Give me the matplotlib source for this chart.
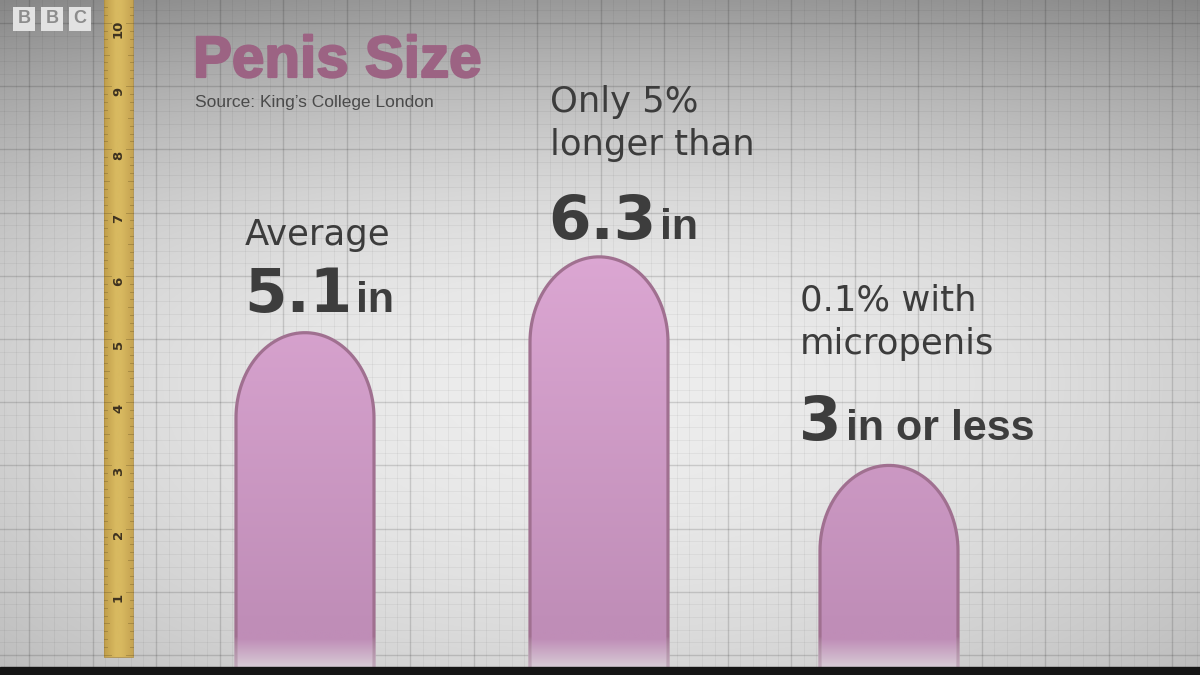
import numpy as np
import matplotlib
matplotlib.use('Agg')
import matplotlib.pyplot as plt
import matplotlib.patheffects as pe
from matplotlib.path import Path
from matplotlib.patches import PathPatch, Rectangle
from matplotlib.ticker import MultipleLocator
from matplotlib.colors import to_rgb

# Data (inches)
labels_top = ['Average', 'Only 5%\nlonger than', '0.1% with\nmicropenis']
values = [5.1, 6.3, 3.0]
value_text = ['5.1', '6.3', '3']
unit_text = ['in', 'in', 'in or less']
ruler_numbers = list(range(1, 11))

title = 'Penis Size'
source = "Source: King\u2019s College London"

# pixel -> data helpers (0 in = grid line near the bottom)
PX_X, PX_Y = 63.5, 63.2
def px2x(p):
    return (p - 29) / PX_X
def px2y(p):
    return (655 - p) / PX_Y

fig = plt.figure(figsize=(12, 6.75), dpi=100)
ax = fig.add_axes([0, 0, 1, 1])
x0, x1 = px2x(0), px2x(1200)
y0, y1 = px2y(675), px2y(0)
ax.set_xlim(x0, x1)
ax.set_ylim(y0, y1)
for s in ax.spines.values():
    s.set_visible(False)

# Background vignette
H, W = 270, 480
yy, xx = np.mgrid[0:H, 0:W]
px_x = xx / (W - 1) * 1200
px_y = yy / (H - 1) * 675
dx = (px_x - 600) / 600
dy = np.where(px_y < 380, (px_y - 380) / 300, (px_y - 380) / 295)
by = np.where(px_y < 380, 0.22, 0.10)
g = 0.93 * (1 - 0.12 * dx ** 2) * (1 - by * dy ** 2)
bg = np.dstack([g, g, g])
ax.imshow(bg, extent=[x0, x1, y0, y1], origin='upper', aspect='auto',
          zorder=0, interpolation='bilinear')

# Grid paper
ax.xaxis.set_major_locator(MultipleLocator(1))
ax.yaxis.set_major_locator(MultipleLocator(1))
ax.xaxis.set_minor_locator(MultipleLocator(0.2))
ax.yaxis.set_minor_locator(MultipleLocator(0.2))
ax.grid(which='major', color='black', alpha=0.14, lw=1.0)
ax.grid(which='minor', color='black', alpha=0.045, lw=0.7)
ax.tick_params(which='both', length=0, labelbottom=False, labelleft=False)
ax.set_axisbelow(True)

# Ruler
rx0, rx1 = px2x(104), px2x(133)
ry0 = px2y(657)
ruler = Rectangle((rx0, ry0), rx1 - rx0, y1 - ry0 + 0.5, facecolor='none',
                  edgecolor='#b09045', lw=0.6, zorder=3)
ax.add_patch(ruler)
t = np.linspace(0, 1, 60)
c_edge = np.array(to_rgb('#c09e4a'))
c_mid = np.array(to_rgb('#d8b960'))
c_right = np.array(to_rgb('#c6a452'))
w_left = np.clip(1 - t / 0.4, 0, 1)
w_right = np.clip((t - 0.6) / 0.4, 0, 1)
w_mid = 1 - w_left - w_right
rg = (w_left[:, None] * c_edge + w_mid[:, None] * c_mid + w_right[:, None] * c_right)
ruler_img = ax.imshow(rg[None, :, :], extent=[rx0, rx1, ry0, y1 + 0.5],
                      aspect='auto', zorder=2.5, interpolation='bilinear')
ruler_img.set_clip_path(ruler)
for k in np.arange(0, 10.5, 0.125):
    if k < ry0:
        continue
    ln = 0.05
    if k % 1 == 0:
        ln = 0.11
    elif k % 0.5 == 0:
        ln = 0.08
    ax.plot([rx0, rx0 + ln], [k, k], color='#6a5524', lw=0.7, alpha=0.35, zorder=3)
    ax.plot([rx1 - ln, rx1], [k, k], color='#6a5524', lw=0.7, alpha=0.35, zorder=3)
for n in ruler_numbers:
    ax.text(px2x(118.5), n - 0.09, str(n), rotation=90, ha='center', va='center',
            fontsize=9.5, fontweight='bold', color='#3e3220', zorder=4,
            family='DejaVu Sans')

# Bars (rounded top)
bar_centers = [px2x(305), px2x(599), px2x(889)]
bar_w = 138 / PX_X
cap_h = 1.35
bottom = y0 - 0.05
top_c = np.array(to_rgb('#dca7d3'))
low_c = np.array(to_rgb('#bf8db7'))
fade_c = np.array(to_rgb('#d8ccd6'))
grad_y = np.linspace(bottom, 6.6, 400)
def bar_color(yv):
    a = np.clip((yv - 0.4) / (6.4 - 0.4), 0, 1)[:, None]
    col = low_c + (top_c - low_c) * a
    f = np.clip((0.25 - yv) / 0.45, 0, 1)[:, None]
    return col * (1 - f) + fade_c * f
gcols = bar_color(grad_y)[::-1]

for cx, v in zip(bar_centers, values):
    hw = bar_w / 2
    th = np.linspace(np.pi, 0, 60)
    ex = cx + hw * np.cos(th)
    ey = (v - cap_h) + cap_h * np.sin(th)
    verts = [(cx - hw, bottom)] + list(zip(ex, ey)) + [(cx + hw, bottom), (cx - hw, bottom)]
    codes = [Path.MOVETO] + [Path.LINETO] * (len(verts) - 2) + [Path.CLOSEPOLY]
    path = Path(verts, codes)
    patch = PathPatch(path, facecolor='none', edgecolor='#a07090', lw=2.3, zorder=5)
    ax.add_patch(patch)
    im = ax.imshow(gcols[:, None, :], extent=[cx - hw, cx + hw, bottom, 6.6],
                   aspect='auto', zorder=4.5, interpolation='bilinear')
    im.set_clip_path(patch)

# soften the bar outlines at the bottom
fy = np.linspace(0, 1, 40)
for cx in bar_centers:
    hw = bar_w / 2
    for side in (-1, 1):
        ax.imshow(np.dstack([np.full((40, 1), to_rgb('#d0c4ce')[c]) for c in range(3)]
                            + [fy[:, None] ** 0.7 * 0.85]),
                  extent=[cx + side * hw - 0.03, cx + side * hw + 0.03, bottom, 0.3],
                  aspect='auto', zorder=5.5, interpolation='bilinear')
ax.set_xlim(x0, x1)
ax.set_ylim(y0, y1)

ax.axhspan(px2y(675), px2y(667), color='#151515', zorder=10)

# Texts
light = dict(family=['DejaVu Sans'], fontsize=25.5, color='#3c3c3c', zorder=8,
             va='baseline', ha='left')
label_pos = [(245, 245), (550, 112), (800, 311)]
value_pos = [(244, 312), (548, 239), (799, 440)]
for lab, (lx, ly) in zip(labels_top, label_pos):
    for i, line in enumerate(lab.split('\n')):
        ax.text(px2x(lx), px2y(ly + i * 43), line, **light)
for vt, ut, (vx, vy) in zip(value_text, unit_text, value_pos):
    tv = ax.text(px2x(vx), px2y(vy), vt, fontsize=44, fontweight='bold',
                 family=['DejaVu Sans'], color='#3d3d3d', zorder=8,
                 va='baseline', ha='left')
    ax.annotate(ut, xy=(1, 0), xycoords=tv, xytext=(3, 3.2),
                textcoords='offset points', fontsize=31,
                family=['Liberation Sans', 'DejaVu Sans'], fontweight='bold',
                color='#3d3d3d', zorder=8, va='bottom', ha='left')

ax.text(px2x(193), px2y(77), title, fontsize=42, fontweight='bold',
        family=['Liberation Sans'], color='#9c6383',
        va='baseline', ha='left', zorder=8,
        path_effects=[pe.withStroke(linewidth=1.6, foreground='#9c6383')])
ax.text(px2x(195), px2y(107), source, fontsize=12.5,
        family=['Liberation Sans'], color='#4a4a4a', va='baseline', ha='left', zorder=8)

# BBC blocks
for i, ch in enumerate('BBC'):
    bx = 13 + i * 28
    ax.add_patch(Rectangle((px2x(bx), px2y(31)), 22 / PX_X, 24 / PX_Y,
                           facecolor='#e2e2e2', edgecolor='none', zorder=8))
    ax.text(px2x(bx + 11), px2y(19), ch, ha='center', va='center', fontsize=13,
            fontweight='bold', family=['Liberation Sans'], color='#8c8c8c', zorder=9)

fig.savefig('out.png', dpi=100)
